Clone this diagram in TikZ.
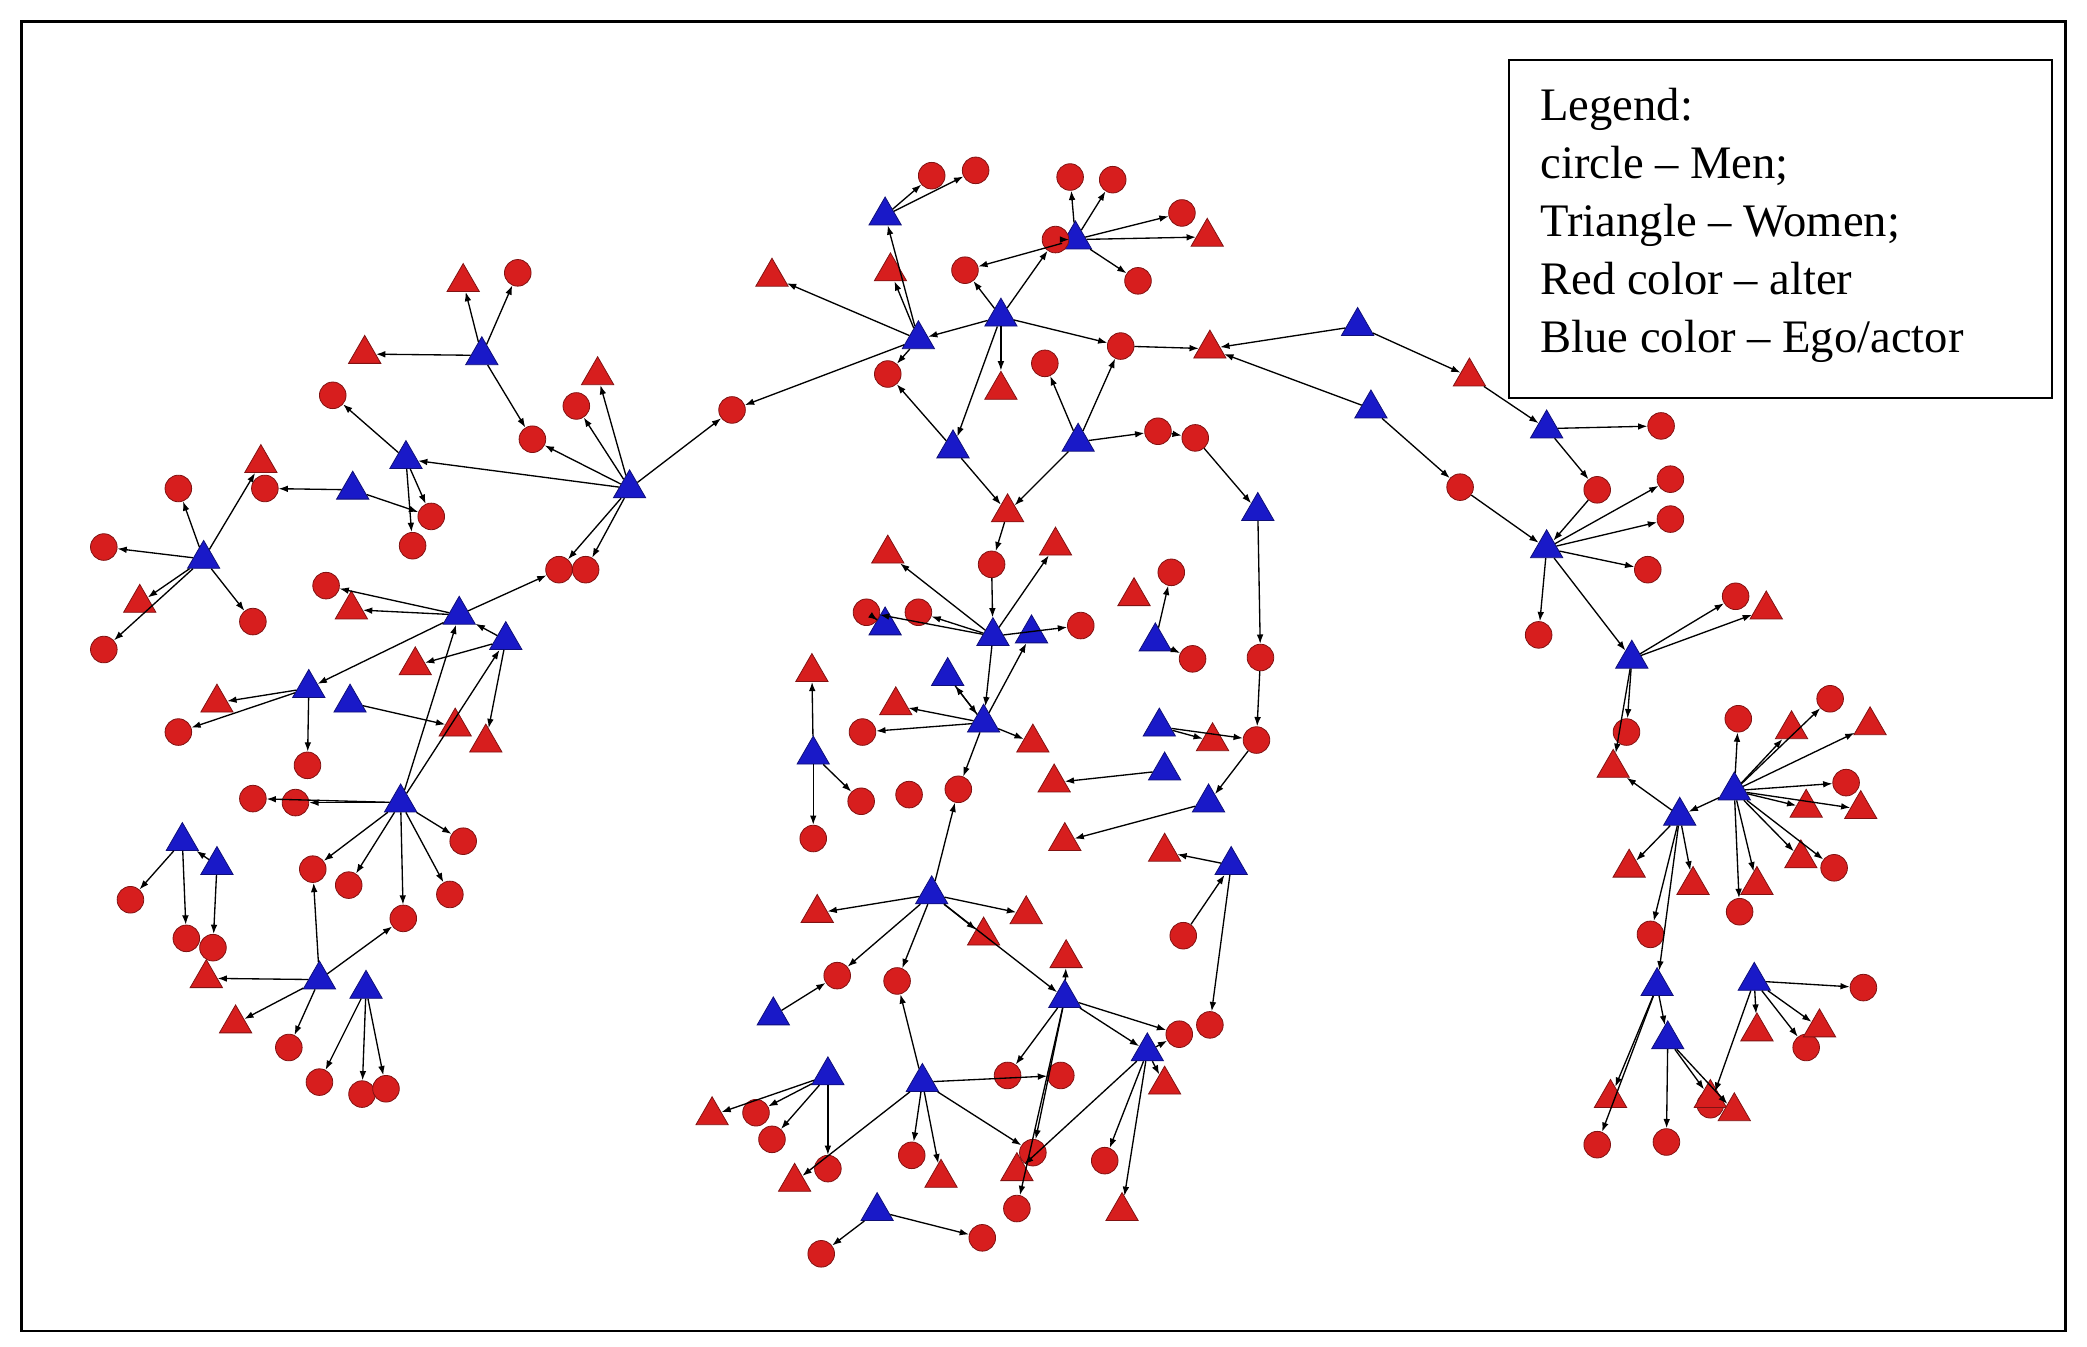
\documentclass[tikz,border=0pt]{standalone}
\usepackage{fontspec}
\setmainfont{Liberation Serif}
\usetikzlibrary{shapes.geometric,arrows.meta}
\definecolor{nred}{RGB}{215,30,30}
\definecolor{nblue}{RGB}{25,25,200}
\tikzset{
 m/.style={circle,fill=nred,draw=nred!60!black,line width=0.3pt,minimum size=10pt,inner sep=0pt},
 w/.style={regular polygon,regular polygon sides=3,fill=nred,draw=nred!60!black,line width=0.3pt,minimum size=14pt,inner sep=0pt},
 eg/.style={regular polygon,regular polygon sides=3,fill=nblue,draw=nblue!60!black,line width=0.3pt,minimum size=14pt,inner sep=0pt},
 e/.style={-{Latex[length=3.5pt,width=2.5pt]},line width=0.5pt,black}
}
\begin{document}
\begin{tikzpicture}[x=0.5pt,y=-0.5pt]
\useasboundingbox (0,0) rectangle (1568,1012);
\fill[white] (0,0) rectangle (1568,1012);
\draw[line width=1pt] (16,16) rectangle (1552,1000);
% blue egos
\foreach \n/\x/\y in {L1/362/267,L2/473/367,L3/305/345,L4/265/368,L5/153/420,L6/345/462,L7/380/481,L8/232/517,L9/263/528,L10/301/603,L11/137/632,L12/163/650,L13/240/736,L14/275/743,
M1/752/238,M2/690/255,M3/808/180,M4/665/162,M5/716/337,M6/810/332,M7/746/478,M8/775/476,M9/665/470,M10/712/508,M11/739/543,M12/868/482,M13/871/546,M14/875/579,M15/908/603,M16/925/650,M17/945/384,M18/611/567,M19/700/672,M20/800/750,M21/581/763,M22/622/808,M23/693/813,M24/862/790,M25/659/910,M26/1020/245,M27/1030/307,
R1/1162/322,R2/1162/412,R3/1226/495,R4/1303/594,R5/1262/613,R6/1245/741,R7/1318/737,R8/1253/781}
 \node[eg] (\n) at (\x,\y) {};
% red circles
\foreach \n/\x/\y in {a1/389/205,a2/250/297,a3/400/330,a4/433/305,a5/550/308,a6/134/367,a7/199/367,a8/324/388,a9/310/410,a10/78/411,a11/245/440,a12/190/467,a13/420/428,a14/440/428,a15/78/488,a16/134/550,a17/231/575,a18/190/600,a19/222/603,a20/348/632,a21/235/653,a22/262/665,a23/338/672,a24/303/690,a25/98/676,a26/140/705,a27/160/712,a28/217/787,a29/240/813,a30/272/822,a31/290/818,
c1/700/132,c2/733/128,c3/804/133,c4/836/135,c5/888/160,c6/725/203,c7/793/180,c8/855/211,c9/667/281,c10/785/273,c11/842/260,c12/870/324,c13/898/329,c14/745/424,c15/651/460,c16/690/460,c17/812/470,c18/896/495,c19/947/494,c20/648/550,c21/647/602,c22/683/597,c23/720/593,c24/944/556,c25/611/630,c26/629/733,c27/674/737,c28/889/703,c29/568/836,c30/580/856,c31/622/878,c32/685/868,c33/757/808,c34/797/808,c35/776/866,c36/764/908,c37/830/872,c38/886/777,c39/909/770,c40/738/930,c41/617/942,c42/880/430,
e1/1248/320,e2/1097/366,e3/1200/368,e4/1255/360,e5/1255/390,e6/1238/428,e7/1156/477,e8/1304/448,e9/1222/550,e10/1306/540,e11/1375/525,e12/1387/588,e13/1378/652,e14/1307/685,e15/1240/702,e16/1400/742,e17/1357/787,e18/1200/860,e19/1252/858,e20/1285/830}
 \node[m] (\n) at (\x,\y) {};
% red triangles
\foreach \n/\x/\y in {b1/348/212,b2/274/266,b3/449/282,b4/196/348,b5/105/453,b6/264/458,b7/312/500,b8/163/528,b9/342/546,b10/365/558,b11/155/735,b12/177/769,
d1/907/178,d2/580/208,d3/669/204,d4/752/293,d5/757/385,d6/667/416,d7/793/410,d8/852/448,d9/610/505,d10/673/530,d11/776/558,d12/792/588,d13/911/557,d14/800/632,d15/875/640,d16/614/686,d17/739/703,d18/771/687,d19/801/720,d20/535/838,d21/597/888,d22/707/885,d23/764/880,d24/843/910,d25/875/815,d26/909/262,d27/1104/283,
f1/1327/458,f2/1212/577,f3/1346/548,f4/1405/545,f5/1357/607,f6/1398/608,f7/1224/652,f8/1272/665,f9/1353/645,f10/1320/665,f11/1320/775,f12/1367/772,f13/1210/825,f14/1285/825,f15/1303/835}
 \node[w] (\n) at (\x,\y) {};
% connectors
\foreach \a/\b in {L1/a1,L1/b1,L1/b2,L1/a3,L2/a3,L2/b3,L2/a4,L2/a5,L2/a13,L2/a14,L2/L3,L3/a8,L3/a9,L3/a2,L4/a7,L4/a8,L5/a6,L5/a10,L5/b5,L5/a12,L5/b4,L5/a15,L6/a11,L6/b6,L6/L8,L6/a13,L7/L6,L7/b7,L7/b10,L8/a16,L8/b8,L8/a17,L9/b9,L10/a18,L10/a19,L10/a20,L10/a21,L10/a22,L10/a23,L10/a24,L10/L7,L10/L6,L11/a25,L11/a26,L12/a27,L13/b11,L13/b12,L13/a28,L13/a21,L14/a29,L14/a30,L14/a31,L13/a24,L12/L11,
M1/M2,M1/c6,M1/c7,M1/d4,M1/c11,M2/d2,M2/d3,M2/a5,M2/c9,M2/M4,M3/c3,M3/c4,M3/c5,M3/d1,M3/c7,M3/c6,M4/c1,M4/c2,M3/c8,c11/d26,M26/d26,M26/d27,M27/d26,M5/c9,M5/d5,M1/M5,M6/d5,M6/c12,M6/c11,M6/c10,c12/c13,c13/M17,M17/c19,d5/c14,c14/M7,M7/c16,M7/c15,M7/d6,M7/c17,M7/d7,M7/M11,M9/c15,M10/M11,M11/c20,M11/d10,M11/d11,M11/c23,M11/M8,M12/c18,M12/c42,M13/d13,M13/c24,M14/d12,M15/d14,M16/d15,M18/d9,M18/c21,M18/c25,M19/c23,M19/d16,M19/c26,M19/c27,M19/d17,M19/d18,M19/M20,M20/d19,M20/c35,M20/c38,M20/c33,M20/M24,M21/c26,M22/c29,M22/d20,M22/c30,M22/c31,M23/c27,M23/c32,M23/d22,M23/c34,M23/c35,M23/d21,M24/c37,M24/d25,M24/d24,M24/c38,M24/d23,M25/c40,M25/c41,M16/c39,c28/M16,c19/c24,c24/M15,M11/M10,M20/c36,
d27/R1,M27/e2,e2/R2,R1/e1,R1/e3,e3/R2,R2/e4,R2/e5,R2/e6,R2/e7,R2/R3,R3/e8,R3/f1,R3/e9,R3/f2,R4/e10,R4/e11,R4/f3,R4/f4,R4/f5,R4/f6,R4/e12,R4/e13,R4/f9,R4/R5,R5/f2,R5/f7,R5/f8,R5/e15,R5/R6,R6/f13,R6/e18,R6/R8,R8/e19,R8/f14,R8/f15,R7/e16,R7/e17,R7/f11,R7/f12,R4/e14,R4/f10,R7/e20}
 \draw[e] (\a) -- (\b);
\node[draw,line width=0.8pt,minimum width=408*0.5pt,minimum height=254*0.5pt,anchor=north west,inner sep=0pt] (leg) at (1133,44) {};
\node[anchor=north west,align=left,font=\fontsize{17.5}{21.8}\selectfont,inner sep=0pt] (legt) at (1157,66) {Legend:\\circle -- Men;\\Triangle -- Women;\\Red color -- alter\\Blue color -- Ego/actor};
\end{tikzpicture}
\end{document}
